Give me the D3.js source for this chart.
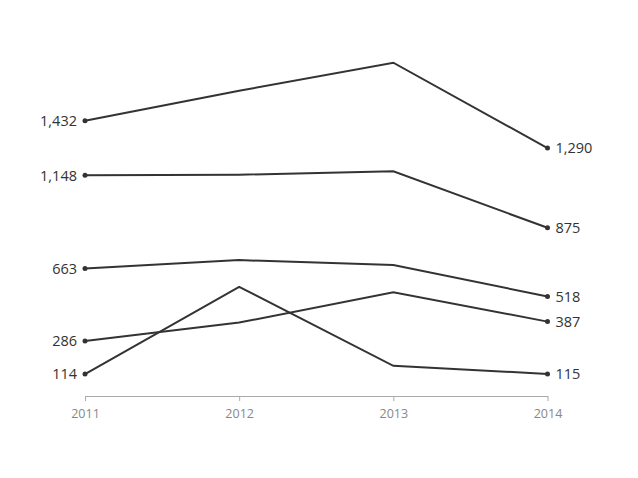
<!DOCTYPE html>
<html>
<head>
<meta charset="utf-8">
<script src="https://cdn.jsdelivr.net/npm/d3@7"></script>
<style>
  body { margin: 0; background: #fff; }
  .line { fill: none; stroke: #333; stroke-width: 2; }
  .dot { fill: #333; }
  .val { font-family: "Open Sans", sans-serif; font-size: 14.5px; fill: #333; }
  .x.axis text { font-family: "Open Sans", sans-serif; font-size: 12.5px; fill: #888; }
  .x.axis path, .x.axis line { stroke: #aaa; }
</style>
</head>
<body>
<div id="chart"></div>
<script>
// years on the x axis
var years = ["2011", "2012", "2013", "2014"];

// one array per line, in year order
var seriesA = [1432, 1588, 1734, 1290];
var seriesB = [1148, 1151, 1169, 875];
var seriesC = [663, 707, 681, 518];
var seriesD = [286, 382, 540, 387];
var seriesE = [114, 568, 157, 115];

var allSeries = [seriesA, seriesB, seriesC, seriesD, seriesE];

var margin = { top: 50, right: 90.5, bottom: 82, left: 85 },
  width = 638 - margin.left - margin.right,
  height = 478 - margin.top - margin.bottom;

var x = d3.scalePoint()
  .domain(years)
  .range([0, width]);

var y = d3.scaleLinear()
  .domain([0, 1800])
  .range([height, 0]);

var fmt = d3.format(",");

var line = d3.line()
  .x(function(d, i) { return x(years[i]); })
  .y(function(d) { return y(d); });

var svg = d3.select("#chart").append("svg")
  .attr("width", 638)
  .attr("height", 478)
  .append("g")
    .attr("transform", "translate(" + margin.left + "," + margin.top + ")");

svg.append("g")
  .attr("class", "x axis")
  .attr("transform", "translate(0," + height + ")")
  .call(d3.axisBottom(x).tickSize(5).tickSizeOuter(0).tickPadding(8));

allSeries.forEach(function(s) {
  svg.append("path")
    .attr("class", "line")
    .attr("d", line(s));

  var first = 0, last = s.length - 1;

  svg.append("circle")
    .attr("class", "dot")
    .attr("cx", x(years[first]))
    .attr("cy", y(s[first]))
    .attr("r", 2.5);

  svg.append("circle")
    .attr("class", "dot")
    .attr("cx", x(years[last]))
    .attr("cy", y(s[last]))
    .attr("r", 2.5);

  svg.append("text")
    .attr("class", "val")
    .attr("x", x(years[first]) - 8)
    .attr("y", y(s[first]))
    .attr("dy", "0.36em")
    .style("text-anchor", "end")
    .text(fmt(s[first]));

  svg.append("text")
    .attr("class", "val")
    .attr("x", x(years[last]) + 8)
    .attr("y", y(s[last]))
    .attr("dy", "0.36em")
    .style("text-anchor", "start")
    .text(fmt(s[last]));
});
</script>
</body>
</html>
